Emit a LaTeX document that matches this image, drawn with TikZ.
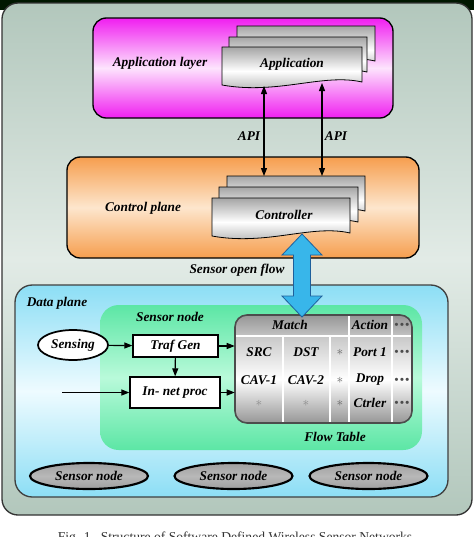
\documentclass[tikz,border=0pt]{standalone}
\usepackage{fontspec}
\setmainfont{Liberation Serif}
\usetikzlibrary{arrows.meta,shapes.geometric}
\definecolor{outerA}{RGB}{178,199,188}
\definecolor{outerM}{RGB}{226,235,230}
\definecolor{magA}{RGB}{240,30,240}
\definecolor{magM}{RGB}{253,228,253}
\definecolor{oraA}{RGB}{246,158,78}
\definecolor{oraM}{RGB}{253,230,205}
\definecolor{cyaA}{RGB}{140,222,245}
\definecolor{cyaM}{RGB}{238,251,255}
\definecolor{grnA}{RGB}{92,230,165}
\definecolor{grnM}{RGB}{185,250,218}
\definecolor{docg}{RGB}{165,165,165}
\definecolor{hdrA}{RGB}{150,150,150}
\definecolor{hdrM}{RGB}{195,195,195}
\definecolor{bodyA}{RGB}{200,200,200}
\definecolor{bodyB}{RGB}{150,150,150}
\definecolor{fatblue}{RGB}{56,182,234}
\definecolor{fatedge}{RGB}{30,95,155}
\definecolor{ellg}{RGB}{160,160,160}
\newcommand\mydoc[4]{\path[docsty] (#1,#2) -- ({#1+#3},#2) -- ({#1+#3},{#2+#4-3}) .. controls ({#1+0.72*#3},{#2+#4-12}) and ({#1+0.40*#3},{#2+#4+10}) .. (#1,{#2+#4}) -- cycle;}
\begin{document}
\begin{tikzpicture}[x=0.75pt,y=-0.75pt,
  lbl/.style={font=\bfseries\itshape\fontsize{10}{12}\selectfont, inner sep=0pt},
  layer/.style={draw=black, line width=1pt, rounded corners=10pt},
  docsty/.style={draw=black, line width=0.6pt, top color=docg, bottom color=docg, middle color=white},
  arr/.style={line width=0.9pt, -{Triangle[length=6pt,width=4.5pt]}},
  darr/.style={line width=0.9pt, {Triangle[length=6pt,width=4.5pt]}-{Triangle[length=6pt,width=4.5pt]}},
  procbox/.style={draw=black, line width=1pt, fill=white, inner sep=0pt, font=\bfseries\itshape\fontsize{10}{12}\selectfont},
  sensell/.style={ellipse, draw=black, line width=1.6pt, top color=ellg, bottom color=ellg, middle color=ellg!75!white, inner sep=0pt, minimum width=88.5pt, minimum height=19.5pt, font=\bfseries\itshape\fontsize{10}{12}\selectfont},
  sep/.style={white, line width=1.4pt}
]
\useasboundingbox (0,0) rectangle (474,537);
\clip (0,0) rectangle (474,537);
\fill[white] (0,0) rectangle (474,537);
\fill[black!85!green!60!black] (0,0) rectangle (474,10);
% outer box
\path[draw=black!80, line width=1pt, rounded corners=12pt, top color=outerA, bottom color=outerA, middle color=outerM] (2,3) rectangle (472,515);
% application layer
\path[layer, top color=magA, bottom color=magA, middle color=magM] (93,18) rectangle (393,118);
\node[lbl] (applayer) at (160,63) {Application layer};
\mydoc{237}{26}{138}{38}
\mydoc{229}{37}{138}{38}
\mydoc{222}{47}{140}{38}
\node[lbl] (app) at (292,64) {Application};
% control plane
\path[layer, top color=oraA, bottom color=oraA, middle color=oraM] (67,157) rectangle (419,258);
\node[lbl] (ctrlplane) at (143,208) {Control plane};
\mydoc{227}{176}{138}{38}
\mydoc{219}{187}{139}{38}
\mydoc{212}{198}{138}{38}
\node[lbl] (ctrl) at (284,215) {Controller};
% API arrows
\coordinate (appL) at (264,86);
\coordinate (appR) at (322,83);
\coordinate (ctlL) at (264,176);
\coordinate (ctlR) at (322,176);
\draw[darr] (ctlL) -- (appL);
\draw[darr] (ctlR) -- (appR);
\node[lbl] (api1) at (249,136) {API};
\node[lbl] (api2) at (336,136) {API};
% data plane
\path[layer, rounded corners=13pt, draw=black!75, top color=cyaA, bottom color=cyaA, middle color=cyaM] (15,285) rectangle (448,497);
\node[lbl] (dataplane) at (57,303) {Data plane};
\node[lbl] (sof) at (237,270) {Sensor open flow};
% sensor node (green)
\path[rounded corners=14pt, top color=grnA, bottom color=grnA, middle color=grnM] (100,305) rectangle (422,450);
\node[lbl] (snlabel) at (170,317) {Sensor node};
\node[lbl] (ftlabel) at (335,437) {Flow Table};
% flow table
\begin{scope}
\clip[rounded corners=9pt] (235,315) rectangle (412,423);
\fill[top color=hdrA, bottom color=hdrM] (235,315) rectangle (412,336);
\fill[top color=bodyA, bottom color=bodyB, middle color=white] (235,336) rectangle (412,423);
\draw[sep] (235,336) -- (412,336);
\draw[sep] (283,336) -- (283,423);
\draw[sep] (330,336) -- (330,423);
\draw[sep] (349,315) -- (349,423);
\draw[sep] (392,315) -- (392,423);
\end{scope}
\draw[rounded corners=9pt, draw=black!70, line width=1.2pt] (235,315) rectangle (412,423);
\node[inner sep=0pt, minimum width=132.75pt, minimum height=81pt] (ft) at (323.5,369) {};
\node[lbl] (hMatch) at (290,325) {Match};
\node[lbl] (hAction) at (370,325) {Action};
\node[inner sep=0pt, text=black!70] (hDots) at (402,325) {\tiny$\bullet\!\bullet\!\bullet$};
\node[lbl] (r1c1) at (259,352) {SRC};
\node[lbl] (r1c2) at (306,352) {DST};
\node[inner sep=0pt, text=black!60] (r1c3) at (340,352) {$\ast$};
\node[lbl] (r1c4) at (370,352) {Port 1};
\node[inner sep=0pt, text=black!70] (r1c5) at (402,352) {\tiny$\bullet\!\bullet\!\bullet$};
\node[lbl] (r2c1) at (259,380) {CAV-1};
\node[lbl] (r2c2) at (306,380) {CAV-2};
\node[inner sep=0pt, text=black!60] (r2c3) at (340,380) {$\ast$};
\node[lbl] (r2c4) at (370,380) {Drop};
\node[inner sep=0pt, text=black!70] (r2c5) at (402,380) {\tiny$\bullet\!\bullet\!\bullet$};
\node[inner sep=0pt, text=black!45] (r3c1) at (259,403) {$\ast$};
\node[inner sep=0pt, text=black!45] (r3c2) at (306,403) {$\ast$};
\node[inner sep=0pt, text=black!60] (r3c3) at (340,403) {$\ast$};
\node[lbl] (r3c4) at (370,403) {Ctrler};
\node[inner sep=0pt, text=black!70] (r3c5) at (402,403) {\tiny$\bullet\!\bullet\!\bullet$};
% processing
\node[ellipse, draw=black, line width=1.3pt, fill=white, inner sep=0pt, minimum width=52.5pt, minimum height=22.5pt, font=\bfseries\itshape\fontsize{10}{12}\selectfont] (sensing) at (73,345) {Sensing};
\node[procbox, minimum width=63.75pt, minimum height=16.5pt] (tg) at (175.5,346) {Traf Gen};
\node[procbox, minimum width=67.5pt, minimum height=23.25pt] (inp) at (175,392.5) {In- net proc};
\coordinate (ext) at (62,392.5);
\draw[arr] (sensing) -- (tg);
\draw[arr] (tg) -- (inp);
\draw[arr] (ext) -- (inp);
\draw[arr] (tg.east) -- (tg.east -| ft.west);
\draw[arr] (inp.east) -- (inp.east -| ft.west);
% fat blue double arrow
\coordinate (fatTop) at (302,234);
\coordinate (fatBot) at (302,317);
\path[fill=fatblue, draw=fatedge, line width=0.6pt] (fatTop) -- (322,255) -- (310.5,255) -- (310.5,296) -- (322,296) -- (fatBot) -- (282,296) -- (293.5,296) -- (293.5,255) -- (282,255) -- cycle;
% sensor nodes
\node[sensell] (sn1) at (89,476) {Sensor node};
\node[sensell] (sn2) at (233.5,476) {Sensor node};
\node[sensell] (sn3) at (368.5,476) {Sensor node};
% caption (cut off by the picture's lower edge, as in the reference)
\node[anchor=base, inner sep=0pt, font=\fontsize{10.2}{12}\selectfont, text=black!80] (cap) at (235,541) {Fig. 1.\ \ Structure of Software Defined Wireless Sensor Networks};
\end{tikzpicture}
\end{document}
